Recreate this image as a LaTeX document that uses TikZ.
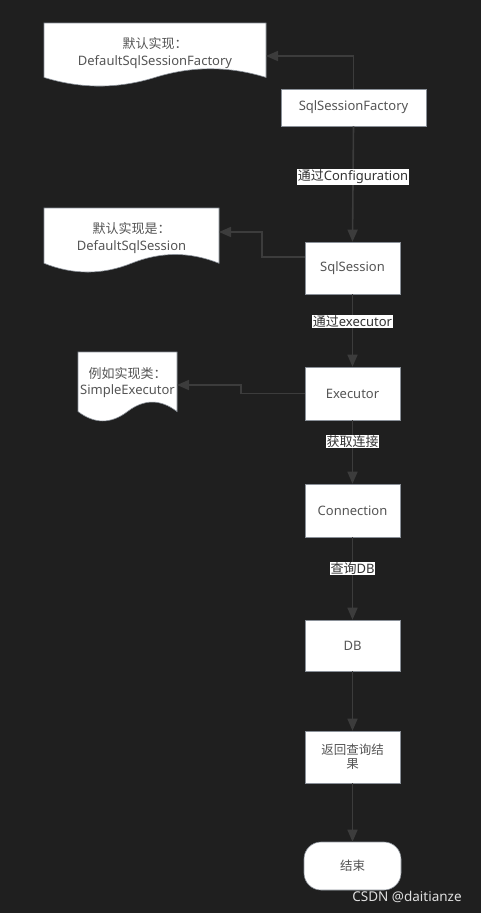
\documentclass[tikz,border=0pt]{standalone}
\usepackage{fontspec}
\setmainfont{Noto Sans}
\newfontfamily\cjk{Noto Sans CJK SC}
\usetikzlibrary{arrows.meta,calc}
\definecolor{bg}{HTML}{1F1F1F}
\definecolor{edge}{HTML}{3C3C3C}
\definecolor{txt}{HTML}{555555}
\definecolor{lbl}{HTML}{333333}
\definecolor{bord}{HTML}{8A9098}
\newcommand{\mydocshape}[4]{%
  \pgfmathsetmacro{\dw}{#2-#1}%
  \pgfmathsetmacro{\ddy}{0.3*#4}%
  \pgfmathsetmacro{\yb}{#3+#4-\ddy/2}%
  \pgfmathsetmacro{\xm}{(#1+#2)/2}%
  \pgfmathsetmacro{\up}{\yb-0.6*\ddy}%
  \pgfmathsetmacro{\dn}{\yb+0.6*\ddy}%
  \pgfmathsetmacro{\ca}{#2-\dw/6}%
  \pgfmathsetmacro{\cb}{\xm+\dw/6}%
  \pgfmathsetmacro{\cc}{\xm-\dw/6}%
  \pgfmathsetmacro{\cd}{#1+\dw/6}%
  \path[docfill] (#1,#3) -- (#2,#3) -- (#2,\yb)
    .. controls (\ca,\up) and (\cb,\up) .. (\xm,\yb)
    .. controls (\cc,\dn) and (\cd,\dn) .. (#1,\yb) -- cycle;%
}
\begin{document}
\begin{tikzpicture}[x=1pt,y=-1pt,
  font=\fontsize{13}{15}\selectfont,
  docfill/.style={fill=white,draw=bord,line width=0.6pt},
  box/.style={rectangle,fill=white,draw=bord,line width=0.6pt,text=txt,align=center,inner sep=0pt},
  doctext/.style={text=txt,align=center,inner sep=0pt,font=\fontsize{13}{16.5}\selectfont},
  elabel/.style={fill=white,text=lbl,inner sep=0.6pt,font=\fontsize{13}{14}\selectfont},
  conn/.style={draw=edge,line width=1.6pt,-{Triangle[length=12pt,width=10pt]}},
  wm/.style={text=white!88!black,font=\fontsize{13.5}{15}\selectfont,inner sep=0pt}]
\fill[bg] (0,0) rectangle (481,913);
\useasboundingbox (0,0) rectangle (481,913);

% documents
\mydocshape{44}{266}{23}{64}
\node[doctext] (d1) at (155,53) {{\cjk 默认实现：}\\DefaultSqlSessionFactory};
\coordinate (d1r) at (266,56);

\mydocshape{44}{219}{208}{65}
\node[doctext] (d2) at (131.5,238) {{\cjk 默认实现是：}\\DefaultSqlSession};
\coordinate (d2r) at (219,232);

\mydocshape{78}{177}{352}{70}
\node[doctext] (d3) at (127.5,382.5) {{\cjk 例如实现类：}\\SimpleExecutor};
\coordinate (d3r) at (177,385);

% main boxes
\node[box,minimum width=145pt,minimum height=37pt] (fac) at (353.5,107.5) {SqlSessionFactory};
\node[box,minimum width=95pt,minimum height=52pt] (ss) at (352.5,268) {SqlSession};
\node[box,minimum width=95pt,minimum height=53pt] (ex) at (352.5,393.5) {Executor};
\node[box,minimum width=95pt,minimum height=53pt] (con) at (352.5,510.5) {Connection};
\node[box,minimum width=95pt,minimum height=51pt] (db) at (352.5,645.5) {DB};
\node[box,minimum width=95pt,minimum height=52pt,font=\cjk\fontsize{12.5}{14}\selectfont] (ret) at (352.5,757) {返回查询结\\果};
\node[box,minimum width=97pt,minimum height=48pt,rounded corners=17pt,font=\cjk\fontsize{12.5}{14}\selectfont] (end) at (352.5,866) {结束};

% connectors
\draw[conn] (fac.north) |- (d1r);
\draw[conn] (fac.south) -- node[elabel,pos=0.44] (l1) {{\cjk 通过}Configuration} (ss.north);
\draw[conn] ([yshift=11pt]ss.west) -- ++(-43,0) |- (d2r);
\draw[conn] (ss.south) -- node[elabel,pos=0.38] (l2) {{\cjk 通过}executor} (ex.north);
\draw[conn] (ex.west) -- ++(-64,0) |- (d3r);
\draw[conn] (ex.south) -- node[elabel,pos=0.33] (l3) {{\cjk 获取连接}} (con.north);
\draw[conn] (con.south) -- node[elabel,pos=0.38] (l4) {{\cjk 查询}DB} (db.north);
\draw[conn] (db.south) -- (ret.north);
\draw[conn] (ret.south) -- (end.north);

\node[wm] (wmk) at (407,897) {CSDN @daitianze};
\end{tikzpicture}
\end{document}
